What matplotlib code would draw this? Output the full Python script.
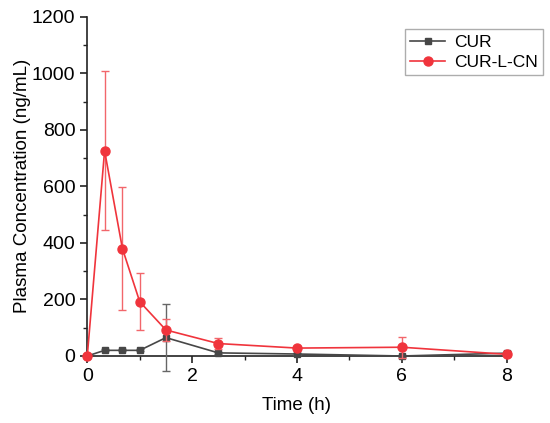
import matplotlib
matplotlib.use("Agg")
import matplotlib.pyplot as plt
from matplotlib.lines import Line2D
from matplotlib.ticker import MultipleLocator

plt.rcParams["font.family"] = ["Liberation Sans", "DejaVu Sans"]

# sampling times (h)
time_h = [0, 0.33, 0.67, 1, 1.5, 2.5, 4, 6, 8]

# CUR
cur_mean = [0, 20, 20, 20, 65, 11, 7, 0, 10]
cur_sd = [0, 3, 3, 3, 118, 4, 4, 2, 9]

# CUR-L-CN
cn_mean = [0, 726, 380, 192, 92, 44, 28, 31, 6]
cn_sd = [0, 282, 216, 100, 40, 20, 8, 37, 5]

series_names = ["CUR", "CUR-L-CN"]

gray = "#474747"
red = "#F0343C"

fig = plt.figure(figsize=(5.5, 4.23), dpi=100)
ax = fig.add_axes([0.1587, 0.1584, 0.7626, 0.8021])

eb1 = ax.errorbar(time_h, cur_mean, yerr=cur_sd, color=gray, marker="s",
                  markersize=5, linewidth=1.2, ecolor="#666666",
                  elinewidth=1.0, capsize=3, capthick=1.0, zorder=3)
eb2 = ax.errorbar(time_h, cn_mean, yerr=cn_sd, color=red, marker="o",
                  markersize=6.5, linewidth=1.2, ecolor="#F2666B",
                  elinewidth=1.0, capsize=3, capthick=1.0, zorder=4)
for eb in [eb1, eb2]:
    for art in eb.lines[0:1] + tuple(eb.lines[1]) + tuple(eb.lines[2]):
        art.set_clip_on(False)

ax.set_xlim(0, 8)
ax.set_ylim(0, 1200)
ax.xaxis.set_major_locator(MultipleLocator(2))
ax.xaxis.set_minor_locator(MultipleLocator(1))
ax.yaxis.set_major_locator(MultipleLocator(200))
ax.yaxis.set_minor_locator(MultipleLocator(100))

for side in ["top", "right"]:
    ax.spines[side].set_visible(False)
for side in ["left", "bottom"]:
    ax.spines[side].set_linewidth(1.2)
    ax.spines[side].set_color("#222222")

ax.tick_params(which="major", direction="out", length=5, width=1.2,
               labelsize=14, colors="#222222", labelcolor="black")
ax.tick_params(which="minor", direction="out", length=3, width=1.0,
               colors="#222222")

ax.set_xlabel("Time (h)", fontsize=13.5, labelpad=9)
ax.set_ylabel("Plasma Concentration (ng/mL)", fontsize=13.5, labelpad=1)

handles = [
    Line2D([], [], color=gray, marker="s", markersize=5, linewidth=1.2),
    Line2D([], [], color=red, marker="o", markersize=6.5, linewidth=1.2),
]
leg = ax.legend(handles, series_names, loc="upper right",
                bbox_to_anchor=(1.086, 0.963), fontsize=12.5, frameon=True,
                fancybox=False, handlelength=2.0, borderpad=0.3,
                labelspacing=0.3, handletextpad=0.5, borderaxespad=0)
leg.get_frame().set_edgecolor("#999999")
leg.get_frame().set_linewidth(1.0)

fig.savefig("out.png", dpi=100)
